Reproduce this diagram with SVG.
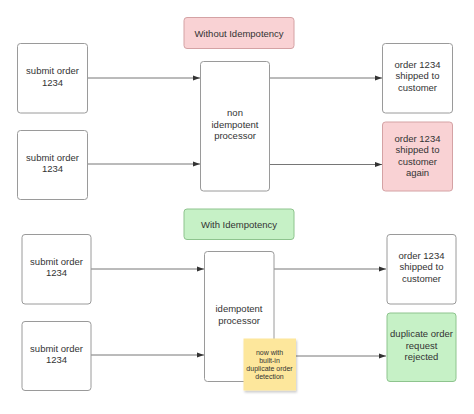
<svg xmlns="http://www.w3.org/2000/svg" width="474" height="414" viewBox="0 0 474 414">
<style>
.box{fill:#ffffff;stroke:#9a9a9a;stroke-width:1}
.pink{fill:#f9d2d4;stroke:#d4a2a4;stroke-width:1}
.green{fill:#c6f1c6;stroke:#8ec48e;stroke-width:1}
.sticky{fill:#fde79c;stroke:none}
text{font-family:"Liberation Sans",Arial,sans-serif;font-size:9.5px;fill:#333333;text-anchor:middle}
.small{font-size:7px}
.conn line{stroke:#666666;stroke-width:0.9;fill:none}
</style>
<defs>
<marker id="arr" markerWidth="8" markerHeight="6" refX="7" refY="3" orient="auto" markerUnits="userSpaceOnUse">
<path d="M0,0.5 L7,3 L0,5.5 Z" fill="#333333"/>
</marker>
<filter id="sh" x="-20%" y="-20%" width="150%" height="150%">
<feDropShadow dx="1" dy="2" stdDeviation="1.2" flood-color="#000000" flood-opacity="0.2"/>
</filter>
</defs>
<rect width="474" height="414" fill="#ffffff"/>

<g class="conn">
<line x1="87" y1="78" x2="200" y2="78" marker-end="url(#arr)"/>
<line x1="87" y1="164" x2="200" y2="164" marker-end="url(#arr)"/>
<line x1="269" y1="78" x2="382" y2="78" marker-end="url(#arr)"/>
<line x1="269" y1="164.5" x2="382" y2="164.5" marker-end="url(#arr)"/>
<line x1="91" y1="269" x2="204" y2="269" marker-end="url(#arr)"/>
<line x1="91" y1="355" x2="204" y2="355" marker-end="url(#arr)"/>
<line x1="274" y1="269" x2="386" y2="269" marker-end="url(#arr)"/>
<line x1="296" y1="356" x2="386" y2="356" marker-end="url(#arr)"/>
</g>

<g id="title-without">
<rect class="pink" x="184" y="17.5" width="110" height="31" rx="3"/>
<text x="239" y="36.5">Without Idempotency</text>
</g>
<g id="submit-1">
<rect class="box" x="17.5" y="43.5" width="70" height="69.5" rx="3"/>
<text x="52.5" y="74">submit order</text>
<text x="52.5" y="85.5">1234</text>
</g>
<g id="submit-2">
<rect class="box" x="17.5" y="130.5" width="70" height="69" rx="3"/>
<text x="52.5" y="160.5">submit order</text>
<text x="52.5" y="172">1234</text>
</g>
<g id="processor-non">
<rect class="box" x="200.5" y="61.5" width="69" height="129.5" rx="3"/>
<text x="235" y="116">non</text>
<text x="235" y="127.5">idempotent</text>
<text x="235" y="139">processor</text>
</g>
<g id="shipped-1">
<rect class="box" x="382.5" y="43.5" width="70" height="69.5" rx="3"/>
<text x="417.5" y="67.5">order 1234</text>
<text x="417.5" y="79">shipped to</text>
<text x="417.5" y="90.5">customer</text>
</g>
<g id="shipped-again">
<rect class="pink" x="382.5" y="122" width="70" height="69" rx="3"/>
<text x="417.5" y="141.5">order 1234</text>
<text x="417.5" y="153">shipped to</text>
<text x="417.5" y="164.5">customer</text>
<text x="417.5" y="176">again</text>
</g>

<g id="title-with">
<rect class="green" x="184" y="209" width="110" height="30.5" rx="3"/>
<text x="239" y="227.5">With Idempotency</text>
</g>
<g id="submit-3">
<rect class="box" x="22" y="234.5" width="69" height="69.5" rx="3"/>
<text x="56.5" y="264.5">submit order</text>
<text x="56.5" y="276">1234</text>
</g>
<g id="submit-4">
<rect class="box" x="22" y="321.5" width="69" height="69" rx="3"/>
<text x="56.5" y="351.5">submit order</text>
<text x="56.5" y="363">1234</text>
</g>
<g id="processor-idem">
<rect class="box" x="204.5" y="251.5" width="69.5" height="130" rx="3"/>
<text x="239" y="312">idempotent</text>
<text x="239" y="323.5">processor</text>
</g>
<g id="shipped-2">
<rect class="box" x="387" y="234.5" width="69" height="69.5" rx="3"/>
<text x="421.5" y="258.5">order 1234</text>
<text x="421.5" y="270">shipped to</text>
<text x="421.5" y="281.5">customer</text>
</g>
<g id="rejected">
<rect class="green" x="387" y="313" width="69" height="68.5" rx="3"/>
<text x="421.5" y="337">duplicate order</text>
<text x="421.5" y="348.5">request</text>
<text x="421.5" y="360">rejected</text>
</g>
<g id="note">
<rect class="sticky" x="243.5" y="338.5" width="52.5" height="52" filter="url(#sh)"/>
<text class="small" x="269.5" y="354.5">now with</text>
<text class="small" x="269.5" y="362.8">built-in</text>
<text class="small" x="269.5" y="371.1">duplicate order</text>
<text class="small" x="269.5" y="379.4">detection</text>
</g>
</svg>
